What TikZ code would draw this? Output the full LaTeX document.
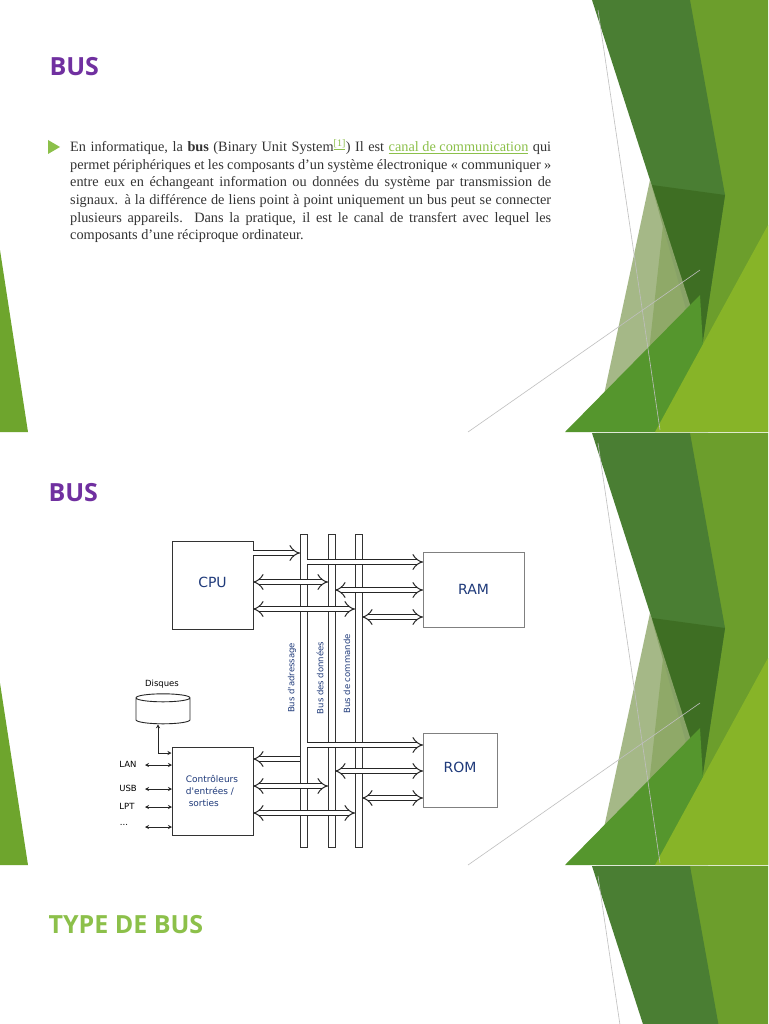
\documentclass[tikz,border=0pt]{standalone}
\usepackage{fontspec}
\usepackage[none]{hyphenat}
\setmainfont{Liberation Serif}
\newfontfamily\tfont{Open Sans}
\newfontfamily\dfont{DejaVu Sans}
\usetikzlibrary{arrows.meta,shapes.geometric}
\definecolor{purp}{HTML}{7030A0}
\definecolor{lgreen}{HTML}{8CC04A}
\definecolor{dblue}{HTML}{1F3A7A}
\definecolor{gLight}{RGB}{108,158,44}
\definecolor{gDark}{RGB}{74,126,51}
\definecolor{gDeep}{RGB}{62,110,35}
\definecolor{gGrey}{RGB}{150,172,115}
\definecolor{gMid}{RGB}{85,150,45}
\definecolor{gBright}{RGB}{135,180,40}
\definecolor{gSliver}{RGB}{110,165,45}
\tikzset{
 title/.style={anchor=west,font=\tfont\bfseries\fontsize{25}{28}\selectfont},
 box/.style={draw=black!80,line width=1pt},
 bus/.style={draw=black!80,line width=1pt,fill=white},
 harr/.style={double=white,double distance=4.6pt,line width=1pt,draw=black!85},
 rr/.style={harr,-{Implies}},
 ll/.style={harr,{Implies}-},
 lr/.style={harr,{Implies}-{Implies}},
 thin arr/.style={draw=black!85,line width=0.9pt,{Stealth[length=4pt,width=4pt]}-{Stealth[length=4pt,width=4pt]}},
 lab/.style={font=\dfont\fontsize{8.5}{9}\selectfont},
}
\newcommand{\deco}[1]{%
 \begin{scope}[yshift=-#1pt]
 \fill[gLight] (688,0)--(768,0)--(768,432)--(640,432)--cycle;
 \fill[gDark] (592,0)--(690,0)--(725,195)--(700,360)--(650,180)--cycle;
 \fill[gDeep] (652,185)--(725,195)--(700,360)--cycle;
 \fill[gGrey,opacity=.85] (650,180)--(695,320)--(640,432)--(596,432)--cycle;
 \fill[gMid] (565,432)--(700,295)--(708,432)--cycle;
 \fill[gBright] (655,432)--(768,225)--(768,432)--cycle;
 \draw[black!25,line width=0.6pt] (598,10)--(660,430);
 \draw[black!25,line width=0.6pt] (468,432)--(700,270);
 \fill[gSliver] (0,250)--(28,432)--(0,432)--cycle;
 \end{scope}}
\begin{document}
\begin{tikzpicture}[x=1pt,y=-1pt]
\useasboundingbox (0,0) rectangle (768,1024);
\fill[white] (0,0) rectangle (768,1024);
\begin{scope}
\clip (0,0) rectangle (768,432); \deco{0}
\end{scope}
\begin{scope}
\clip (0,433) rectangle (768,865); \deco{433}
\end{scope}
\begin{scope}
\clip (0,866) rectangle (768,1024); \deco{866}
\end{scope}
% slide 1
\node[title,text=purp] (t1) at (46,67) {BUS};
\fill[lgreen] (48,140)--(60,147)--(48,154)--cycle;
\node[anchor=north west,text width=481pt,align=justify,inner sep=0pt,text=black!80,
 font=\fontsize{14.3}{17.7}\selectfont] (p) at (70,139)
 {En informatique, la \textbf{bus} (Binary Unit System\textsuperscript{\textcolor{lgreen}{\underline{[1]}}}) Il est \textcolor{lgreen}{\underline{canal de communication}} qui permet périphériques et les composants d'un système électronique «~communiquer~» entre eux en échangeant information ou données du système par transmission de signaux. à la différence de liens point à point uniquement un bus peut se connecter plusieurs appareils. Dans la pratique, il est le canal de transfert avec lequel les composants d'une réciproque ordinateur.};
% slide 2
\node[title,text=purp] (t2) at (45,493) {BUS};
\node[box,minimum width=81pt,minimum height=88pt] (cpu) at (212.5,585) {};
\node[text=dblue,font=\dfont\fontsize{14}{16}\selectfont] at (212.5,582) {CPU};
\node[box,draw=black!50,minimum width=101pt,minimum height=75pt] (ram) at (473.5,589.5) {};
\node[text=dblue,font=\dfont\fontsize{14}{16}\selectfont] at (473.5,589) {RAM};
\node[box,draw=black!50,minimum width=74pt,minimum height=74pt] (rom) at (460,770) {};
\node[text=dblue,font=\dfont\fontsize{14}{16}\selectfont] at (460,767) {ROM};
\node[box,minimum width=81pt,minimum height=88pt] (ctl) at (212.5,791) {};
\node[text=dblue,font=\dfont\fontsize{9}{12}\selectfont,align=left] at (212,791) {Contrôleurs\\d'entrées /\\\ sorties};
% buses
\draw[bus] (300,534) rectangle (307,847);
\draw[bus] (328,534) rectangle (335,847);
\draw[bus] (355,534) rectangle (362,847);
\node[lab,rotate=90,text=dblue] at (292,678) {Bus d'adressage};
\node[lab,rotate=90,text=dblue] at (320,678) {Bus des données};
\node[lab,rotate=90,text=dblue] at (347,674) {Bus de commande};
% arrows
\draw[rr] (253,553)--(300,553);
\draw[rr] (307,562)--(423,562);
\draw[lr] (253,582)--(328,582);
\draw[lr] (335,590)--(423,590);
\draw[lr] (253,609)--(355,609);
\draw[lr] (362,617)--(423,617);
\draw[rr] (307,745)--(423,745);
\draw[lr] (335,771)--(423,771);
\draw[lr] (362,798)--(423,798);
\draw[ll] (253,759)--(300,759);
\draw[lr] (253,786)--(328,786);
\draw[lr] (253,813)--(355,813);
% disk
\node[lab] (dq) at (162,684) {Disques};
\node[cylinder,shape border rotate=90,draw=black!85,line width=0.9pt,aspect=1.2,minimum width=54pt,minimum height=30pt,fill=white] (disk) at (163,712) {};
\draw[thin arr] ([xshift=-5pt]disk.south) |- (ctl.west |- 0,753);
\node[lab] at (128,764) {LAN};
\node[lab] at (128,788) {USB};
\node[lab] at (127,806) {LPT};
\node[lab] at (124,825) {...};
\foreach \y in {765,789,807,827} \draw[thin arr] (145,\y)--(172,\y);
% slide 3
\node[title,text=lgreen] (t3) at (45,925) {TYPE DE BUS};
\end{tikzpicture}
\end{document}
